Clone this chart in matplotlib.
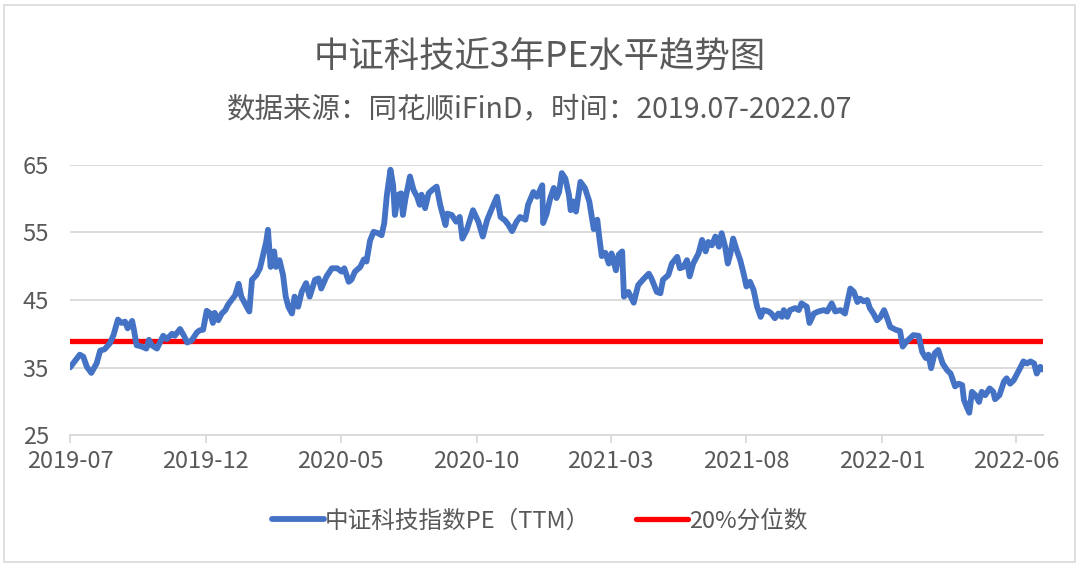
import matplotlib
matplotlib.use("Agg")
import matplotlib.pyplot as plt
import matplotlib.dates as mdates
from matplotlib.patches import Rectangle
import pandas as pd

plt.rcParams['font.family'] = ['Noto Sans CJK SC', 'DejaVu Sans']

title = '中证科技近3年PE水平趋势图'
subtitle = '数据来源：同花顺iFinD，时间：2019.07-2022.07'
series_name = '中证科技指数PE（TTM）'
pct_name = '20%分位数'

start_date = '2019-07-01'
# days since start_date
days = [0, 11, 15, 19, 24, 30, 34, 39, 45, 49, 54, 58, 62, 65, 70, 72, 75, 81, 86, 89,
        92, 98, 101, 105, 109, 115, 118, 124, 128, 132, 137, 143, 146, 150, 154, 158, 161, 163, 167, 171,
        175, 178, 182, 186, 190, 193, 199, 202, 205, 210, 214, 218, 221, 223, 226, 230, 232, 236, 240, 243,
        246, 250, 253, 257, 261, 266, 270, 276, 280, 283, 289, 295, 301, 306, 309, 314, 317, 321, 327, 331,
        334, 338, 342, 347, 351, 354, 357, 361, 364, 366, 370, 373, 375, 378, 383, 387, 391, 394, 396, 400,
        404, 408, 413, 417, 423, 425, 430, 435, 439, 442, 447, 454, 460, 465, 470, 477, 481, 485, 490, 494,
        498, 503, 507, 513, 516, 522, 526, 532, 533, 537, 541, 545, 548, 551, 554, 558, 562, 564, 567, 570,
        575, 580, 585, 590, 594, 596, 599, 603, 607, 610, 615, 618, 622, 624, 629, 635, 640, 646, 652, 655,
        661, 665, 668, 674, 678, 684, 687, 691, 695, 698, 702, 708, 712, 716, 719, 723, 727, 731, 734, 738,
        741, 744, 747, 751, 755, 759, 762, 766, 770, 774, 778, 781, 787, 790, 794, 798, 802, 804, 808, 811,
        817, 821, 824, 830, 833, 838, 843, 849, 853, 858, 862, 868, 873, 879, 883, 887, 890, 894, 898, 901,
        905, 909, 913, 917, 920, 924, 930, 935, 938, 942, 946, 950, 956, 960, 964, 967, 970, 974, 978, 983,
        988, 992, 997, 1001, 1005, 1007, 1010, 1013, 1016, 1020, 1024, 1027, 1031, 1036, 1040, 1042, 1047, 1052, 1055, 1059,
        1063, 1067, 1071, 1074, 1078, 1082, 1086, 1089, 1093, 1096]
pe = [35.0, 36.9, 36.6, 35.1, 34.2, 35.6, 37.5, 37.7, 38.6, 39.8, 42.1, 41.6, 41.8, 40.8, 41.9, 40.6, 38.3, 38.1, 37.8, 39.1,
      38.3, 37.8, 38.6, 39.7, 39.2, 40.0, 39.7, 40.7, 39.8, 38.7, 39.0, 40.2, 40.5, 40.6, 43.4, 43.0, 41.6, 43.1, 42.0, 43.0,
      43.5, 44.3, 45.0, 45.7, 47.4, 45.5, 44.0, 43.3, 48.0, 48.7, 49.7, 51.9, 53.6, 55.4, 49.9, 52.2, 49.9, 50.9, 48.7, 45.5,
      44.0, 43.0, 45.5, 44.0, 46.2, 47.5, 45.5, 48.0, 48.2, 46.7, 48.5, 49.7, 49.7, 49.2, 49.7, 47.7, 48.0, 49.2, 49.9, 51.0,
      50.7, 53.8, 55.1, 54.9, 54.6, 56.4, 60.6, 64.3, 62.0, 57.6, 60.6, 60.8, 57.6, 60.1, 63.3, 61.3, 60.3, 59.1, 60.6, 58.6,
      60.8, 61.3, 61.8, 59.1, 56.1, 57.8, 57.6, 56.6, 57.3, 54.1, 55.4, 58.3, 56.6, 54.4, 56.9, 59.1, 60.3, 57.3, 56.8, 56.1,
      55.2, 56.6, 57.3, 56.9, 59.1, 61.0, 60.3, 62.0, 56.4, 57.8, 60.1, 61.6, 60.1, 61.0, 63.8, 63.0, 60.6, 58.3, 59.6, 58.1,
      62.5, 61.6, 59.6, 55.5, 56.9, 54.5, 51.5, 52.0, 50.4, 51.9, 49.4, 51.7, 52.2, 45.5, 46.2, 44.6, 47.2, 48.1, 48.9, 48.2,
      46.2, 46.0, 48.0, 48.7, 50.4, 51.4, 49.7, 49.9, 50.9, 48.5, 50.4, 51.9, 53.9, 52.2, 53.6, 53.1, 54.4, 52.9, 54.9, 52.9,
      50.4, 51.9, 54.1, 52.4, 50.9, 48.8, 47.0, 47.7, 46.5, 44.0, 42.5, 43.5, 43.3, 43.0, 42.3, 43.0, 42.5, 43.5, 42.5, 43.5,
      43.8, 43.5, 44.5, 44.0, 41.6, 43.0, 43.3, 43.5, 43.3, 44.5, 43.3, 43.5, 43.0, 46.7, 46.2, 44.7, 45.2, 44.8, 45.0, 43.8,
      43.0, 42.0, 42.5, 43.5, 42.5, 41.0, 40.6, 40.4, 38.1, 38.8, 39.3, 39.8, 39.7, 37.3, 36.4, 36.9, 34.9, 37.1, 37.6, 35.6,
      34.6, 34.1, 32.2, 32.6, 32.4, 30.2, 29.2, 28.3, 31.4, 30.9, 29.9, 31.4, 30.9, 31.9, 31.4, 30.3, 30.9, 32.9, 33.4, 32.6,
      33.1, 34.1, 35.1, 35.9, 35.6, 35.9, 35.6, 34.1, 35.1, 34.7]
pct20 = 39.0

tick_dates = ['2019-07-01', '2019-12-01', '2020-05-01', '2020-10-01',
              '2021-03-01', '2021-08-01', '2022-01-01', '2022-06-01']
yticks = [25, 35, 45, 55, 65]

dates = pd.to_datetime(start_date) + pd.to_timedelta(days, unit='D')

text_color = '#595959'
grid_color = '#D9D9D9'

fig = plt.figure(figsize=(10.8, 5.67), dpi=100)
ax = fig.add_axes([0.0648, 0.2328, 0.9009, 0.4762])

ax.plot(dates, [pct20] * len(dates), color='#FF0000', lw=3.8, label=pct_name, zorder=2,
        solid_capstyle='round')
ax.plot(dates, pe, color='#4472C4', lw=4.2, label=series_name, zorder=3,
        solid_joinstyle='round', solid_capstyle='round')

ax.set_xlim(dates[0], dates[-1])
ax.set_ylim(25, 65)
ax.set_yticks(yticks)
ax.set_xticks(pd.to_datetime(tick_dates))
ax.xaxis.set_major_formatter(mdates.DateFormatter('%Y-%m'))
ax.grid(axis='y', color=grid_color, lw=1.3)
ax.set_axisbelow(True)
for s in ['top', 'right', 'left']:
    ax.spines[s].set_visible(False)
ax.spines['bottom'].set_color(grid_color)
ax.spines['bottom'].set_linewidth(1.3)
ax.tick_params(axis='x', colors=grid_color, length=6, width=1.3, labelcolor=text_color,
               labelsize=17, pad=5)
ax.tick_params(axis='y', length=0, labelcolor=text_color, labelsize=17, pad=15)

fig.text(0.5, 0.898, title, ha='center', va='center', fontsize=25.5, color=text_color)
fig.text(0.5, 0.808, subtitle, ha='center', va='center', fontsize=20.5, color=text_color)

h, l = ax.get_legend_handles_labels()
fig.legend(h[::-1], l[::-1], loc='center', bbox_to_anchor=(0.5, 0.081), ncol=2, frameon=False,
           fontsize=17, labelcolor=text_color, handlelength=2.2, handletextpad=0.05,
           columnspacing=1.95)

fig.add_artist(Rectangle((0.004, 0.008), 0.991, 0.984, transform=fig.transFigure,
                         fill=False, edgecolor=grid_color, lw=1.2))

fig.savefig('out.png', dpi=100)
